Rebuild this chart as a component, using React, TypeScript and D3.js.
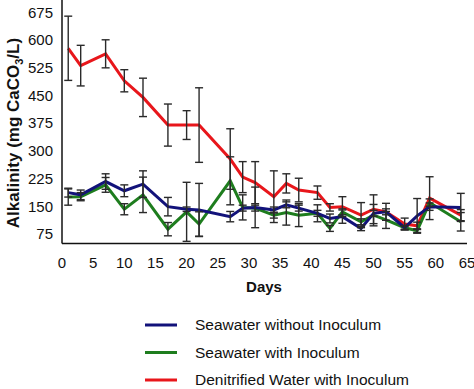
import React from "react";
import * as d3 from "d3";

const days = [1, 3, 7, 10, 13, 17, 20, 22, 27, 29, 31, 34, 36, 38, 41, 43, 45, 48, 50, 52, 55, 57, 59, 64];

const blueValues = [187, 181, 217, 192, 210, 149, 142, 140, 122, 145, 147, 140, 154, 145, 131, 117, 122, 90, 131, 135, 92, 124, 149, 147];
const blueErrors = [12, 13, 21, 16, 36, 25, 6, 72, 14, 8, 55, 8, 8, 8, 23, 12, 18, 6, 8, 8, 4, 47, 10, 38];

const greenValues = [175, 176, 208, 142, 181, 88, 135, 102, 219, 147, 145, 126, 133, 126, 131, 90, 135, 108, 126, 113, 92, 84, 160, 108];
const greenErrors = [22, 11, 20, 15, 48, 18, 80, 33, 65, 34, 8, 8, 34, 31, 8, 8, 8, 8, 29, 23, 6, 5, 10, 25];

const redValues = [578, 531, 563, 490, 445, 370, 370, 370, 278, 229, 214, 176, 212, 194, 187, 147, 149, 126, 142, 135, 102, 97, 172, 126];
const redErrors = [87, 55, 38, 30, 52, 57, 39, 101, 82, 42, 57, 70, 26, 32, 18, 10, 27, 34, 39, 23, 16, 10, 58, 15];

const xTicks = [0, 5, 10, 15, 20, 25, 30, 35, 40, 45, 50, 55, 60, 65];
const yTicks = [75, 150, 225, 300, 375, 450, 525, 600, 675];

const seriesNames = ["Seawater without Inoculum", "Seawater with Inoculum", "Denitrified Water with Inoculum"];
const seriesColors = ["#12127a", "#1e7d1e", "#e8161b"];

export default function App() {
  const W = 474, H = 389;
  const x = d3.scaleLinear().domain([0, 65]).range([62, 467]);
  const y = d3.scaleLinear().domain([50, 705]).range([243.2, 1.4]);
  const line = d3.line<[number, number]>().x(d => x(d[0])).y(d => y(d[1]));

  const series = [
    { vals: redValues, errs: redErrors, color: seriesColors[2] },
    { vals: greenValues, errs: greenErrors, color: seriesColors[1] },
    { vals: blueValues, errs: blueErrors, color: seriesColors[0] },
  ];
  const font = "'Liberation Sans', Arial, sans-serif";
  const cap = 4;

  return (
    <svg width={W} height={H} style={{ position: "absolute", left: 0, top: 0, background: "#fff" }} fontFamily={font}>
      <rect x={0} y={0} width={W} height={H} fill="#fff" />
      {series.map((s, i) => (
        <path key={"l" + i} d={line(days.map((d, j) => [d, s.vals[j]]) as [number, number][]) || ""} fill="none" stroke={s.color} strokeWidth={3} strokeLinejoin="miter" />
      ))}
      {series.map((s, i) => (
        <g key={"e" + i} stroke="#2a2a2a" strokeWidth={1.4}>
          {days.map((d, j) => {
            const cx = x(d);
            const y1 = y(s.vals[j] + s.errs[j]);
            const y2 = y(s.vals[j] - s.errs[j]);
            return (
              <g key={j}>
                <line x1={cx} x2={cx} y1={y1} y2={y2} />
                <line x1={cx - cap} x2={cx + cap} y1={y1} y2={y1} />
                <line x1={cx - cap} x2={cx + cap} y1={y2} y2={y2} />
              </g>
            );
          })}
        </g>
      ))}
      <line x1={62} x2={62} y1={0} y2={243.5} stroke="#111" strokeWidth={1.5} />
      <line x1={62} x2={467} y1={243.5} y2={243.5} stroke="#111" strokeWidth={1.5} />
      {yTicks.map(t => (
        <text key={t} x={53} y={y(t)} dy="0.35em" textAnchor="end" fontSize={15} fill="#111">{t}</text>
      ))}
      {xTicks.map(t => (
        <text key={t} x={x(t)} y={263} dy="0.35em" textAnchor="middle" fontSize={15} fill="#111">{t}</text>
      ))}
      <text x={264} y={287} dy="0.35em" textAnchor="middle" fontSize={15} fontWeight="bold" fill="#111">Days</text>
      <text transform="translate(13,133) rotate(-90)" textAnchor="middle" dy="0.35em" fontSize={17} fontWeight="bold" fill="#111">
        Alkalinity (mg CaCO<tspan fontSize={11} dy="4">3</tspan><tspan dy="-4">/L)</tspan>
      </text>
      {seriesNames.map((n, i) => {
        const ly = 325 + i * 27.5;
        return (
          <g key={n}>
            <line x1={145} x2={177} y1={ly} y2={ly} stroke={seriesColors[i]} strokeWidth={3} />
            <text x={195} y={ly} dy="0.35em" fontSize={15.5} fill="#111">{n}</text>
          </g>
        );
      })}
    </svg>
  );
}
